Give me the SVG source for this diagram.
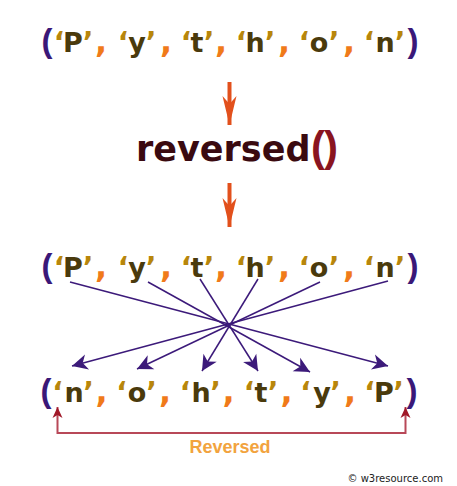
<svg xmlns="http://www.w3.org/2000/svg" width="457" height="486" viewBox="0 0 457 486">
<style>
.t{font-family:"DejaVu Sans",Verdana,sans-serif;font-weight:bold;font-size:27px;text-anchor:middle}
.p{fill:#3a1878;font-family:"Liberation Sans",Arial,sans-serif;font-size:33px}
.q{fill:#b8860b;font-size:28px}
.l{fill:#4a3a0c}
.c{fill:#f07a1a;font-size:32px}
.fn{font-family:"DejaVu Sans",Verdana,sans-serif;font-weight:bold;font-size:35px;fill:#3a0a10}
.fp{fill:#8a1420;font-family:"Liberation Sans",Arial,sans-serif;font-size:42px}
.lab{font-family:"Liberation Sans",Arial,sans-serif;font-weight:bold;font-size:18px;fill:#f2a33e;text-anchor:middle}
.wm{font-family:"DejaVu Sans",Verdana,sans-serif;font-size:10px;fill:#222;text-anchor:end}
.pl{stroke:#3c1a7a;stroke-width:1.5;fill:none}
.ol{stroke:#e2501c;stroke-width:4;fill:none}
.rl{stroke:#b84858;stroke-width:2;fill:none}
</style>
<defs>
<marker id="ap" markerUnits="userSpaceOnUse" markerWidth="20" markerHeight="20" viewBox="-2 -8 18 16" refX="13" refY="0" orient="auto">
<path d="M-1,-7 L13,0 L-1,7 L3,0 z" fill="#3c1a7a"/>
</marker>
<marker id="ao" markerUnits="userSpaceOnUse" markerWidth="32" markerHeight="20" viewBox="-2 -10 32 20" refX="29" refY="0" orient="auto">
<path d="M0,-7 L29,0 L0,7 L8,0 z" fill="#e2501c"/>
</marker>
<marker id="ar" markerUnits="userSpaceOnUse" markerWidth="16" markerHeight="14" viewBox="-2 -7 16 14" refX="11" refY="0" orient="auto-start-reverse">
<path d="M0,-5 L11,0 L0,5 L3,0 z" fill="#a01828"/>
</marker>
</defs>

<g id="row-original">
<text class="t" y="52"><tspan class="p" x="47">(</tspan><tspan class="q" x="59">‘</tspan><tspan class="l" x="73">P</tspan><tspan class="q" x="88">’</tspan><tspan class="c" x="101">,</tspan><tspan class="q" x="123">‘</tspan><tspan class="l" x="137">y</tspan><tspan class="q" x="151">’</tspan><tspan class="c" x="166">,</tspan><tspan class="q" x="186">‘</tspan><tspan class="l" x="197">t</tspan><tspan class="q" x="209">’</tspan><tspan class="c" x="221">,</tspan><tspan class="q" x="241">‘</tspan><tspan class="l" x="255">h</tspan><tspan class="q" x="270">’</tspan><tspan class="c" x="284">,</tspan><tspan class="q" x="304">‘</tspan><tspan class="l" x="319">o</tspan><tspan class="q" x="334">’</tspan><tspan class="c" x="349">,</tspan><tspan class="q" x="369">‘</tspan><tspan class="l" x="385">n</tspan><tspan class="q" x="400">’</tspan><tspan class="p" x="413">)</tspan></text>
</g>

<g id="reversed-fn">
<text class="fn" x="136" y="161">reversed<tspan class="fp" x="318" text-anchor="middle">(</tspan><tspan class="fp" x="331" text-anchor="middle">)</tspan></text>
</g>

<g id="row-input">
<text class="t" y="277"><tspan class="p" x="47">(</tspan><tspan class="q" x="59">‘</tspan><tspan class="l" x="73">P</tspan><tspan class="q" x="88">’</tspan><tspan class="c" x="101">,</tspan><tspan class="q" x="123">‘</tspan><tspan class="l" x="137">y</tspan><tspan class="q" x="151">’</tspan><tspan class="c" x="166">,</tspan><tspan class="q" x="186">‘</tspan><tspan class="l" x="197">t</tspan><tspan class="q" x="209">’</tspan><tspan class="c" x="221">,</tspan><tspan class="q" x="241">‘</tspan><tspan class="l" x="255">h</tspan><tspan class="q" x="270">’</tspan><tspan class="c" x="284">,</tspan><tspan class="q" x="304">‘</tspan><tspan class="l" x="319">o</tspan><tspan class="q" x="334">’</tspan><tspan class="c" x="349">,</tspan><tspan class="q" x="369">‘</tspan><tspan class="l" x="385">n</tspan><tspan class="q" x="400">’</tspan><tspan class="p" x="413">)</tspan></text>
</g>

<g id="row-reversed">
<text class="t" y="402"><tspan class="p" x="46">(</tspan><tspan class="q" x="57.5">‘</tspan><tspan class="l" x="74">n</tspan><tspan class="q" x="88.5">’</tspan><tspan class="c" x="101.5">,</tspan><tspan class="q" x="121.5">‘</tspan><tspan class="l" x="137">o</tspan><tspan class="q" x="151.5">’</tspan><tspan class="c" x="165">,</tspan><tspan class="q" x="185">‘</tspan><tspan class="l" x="201">h</tspan><tspan class="q" x="215.5">’</tspan><tspan class="c" x="228.5">,</tspan><tspan class="q" x="249">‘</tspan><tspan class="l" x="261">t</tspan><tspan class="q" x="273">’</tspan><tspan class="c" x="286.5">,</tspan><tspan class="q" x="305.5">‘</tspan><tspan class="l" x="322">y</tspan><tspan class="q" x="335.5">’</tspan><tspan class="c" x="350">,</tspan><tspan class="q" x="369.5">‘</tspan><tspan class="l" x="384">P</tspan><tspan class="q" x="398.5">’</tspan><tspan class="p" x="412">)</tspan></text>
</g>

<g id="label-reversed">
<text class="lab" x="230" y="453">Reversed</text>
</g>

<g id="watermark">
<text class="wm" x="443" y="482">© w3resource.com</text>
</g>

<g id="connectors">
<line class="ol" x1="229.5" y1="82" x2="229.5" y2="125" marker-end="url(#ao)"/>
<line class="ol" x1="229.5" y1="183" x2="229.5" y2="227" marker-end="url(#ao)"/>
<line class="pl" x1="70" y1="282" x2="388" y2="366" marker-end="url(#ap)"/>
<line class="pl" x1="148" y1="282" x2="310" y2="372" marker-end="url(#ap)"/>
<line class="pl" x1="200" y1="279" x2="258" y2="371" marker-end="url(#ap)"/>
<line class="pl" x1="258" y1="279" x2="202" y2="371" marker-end="url(#ap)"/>
<line class="pl" x1="320" y1="282" x2="137" y2="369" marker-end="url(#ap)"/>
<line class="pl" x1="388" y1="281" x2="72" y2="366" marker-end="url(#ap)"/>
<path class="rl" d="M57.5,407 V433 H405.5 V407" marker-start="url(#ar)" marker-end="url(#ar)"/>
</g>
</svg>
